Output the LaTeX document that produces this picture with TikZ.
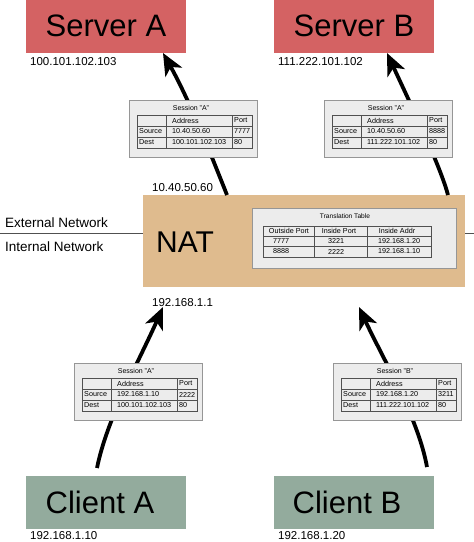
\documentclass[tikz,border=0pt]{standalone}
\usepackage{fontspec}
\setmainfont{Liberation Sans}
\usetikzlibrary{arrows.meta}
\definecolor{srvred}{RGB}{212,98,99}
\definecolor{cligreen}{RGB}{147,171,157}
\definecolor{nattan}{RGB}{223,187,142}
\definecolor{panelfill}{RGB}{236,236,236}
\definecolor{panelline}{RGB}{150,150,150}
\definecolor{gridline}{RGB}{80,80,80}
\tikzset{
  hostbox/.style={draw=none,minimum width=160pt,minimum height=53pt,inner sep=0pt},
  bigtext/.style={inner sep=0pt,font=\fontsize{31}{31}\selectfont},
  iplabel/.style={anchor=west,inner sep=0pt,font=\fontsize{11.5}{12}\selectfont},
  netlabel/.style={anchor=west,inner sep=0pt,font=\fontsize{13.5}{14}\selectfont},
  flow/.style={line width=3.8pt,-{Stealth[length=22pt,width=19pt,inset=6pt]}},
  panel/.style={draw=panelline,fill=panelfill,line width=0.8pt,inner sep=0pt},
  gridl/.style={draw=gridline,line width=0.8pt},
  celltitle/.style={inner sep=0pt,font=\fontsize{7}{8}\selectfont},
  cell/.style={anchor=west,inner sep=0pt,font=\fontsize{7.2}{8}\selectfont},
  ccell/.style={inner sep=0pt,font=\fontsize{7.2}{8}\selectfont},
}
\newcommand\sesspanel[7]{%
  \begin{scope}[shift={#1}]
    \node[panel,anchor=north west,minimum width=128pt,minimum height=57pt] (#2) at (0,0) {};
    \node[celltitle] (#2-title) at (62,7.5) {#3};
    \draw[gridl] (8,15) rectangle (123,48);
    \draw[gridl] (8,26) -- (123,26) (8,37) -- (123,37) (37,15) -- (37,48) (103,15) -- (103,48);
    \node[cell] (#2-ha) at (43,20.5) {Address};
    \node[cell] (#2-hp) at (105,20.5) {Port};
    \node[cell] (#2-s) at (10,31.5) {Source};
    \node[cell] (#2-sa) at (43,31.5) {#4};
    \node[cell] (#2-sp) at (105,31.5) {#5};
    \node[cell] (#2-d) at (10,42.5) {Dest};
    \node[cell] (#2-da) at (43,42.5) {#6};
    \node[cell] (#2-dp) at (105,42.5) {#7};
  \end{scope}}
\begin{document}
\begin{tikzpicture}[x=1pt,y=-1pt]
\useasboundingbox (0,0) rectangle (474,542);

% hosts
\node[hostbox,fill=srvred] (srvA) at (106,26) {};
\node[bigtext] (srvAtext) at (106,26) {Server A};
\node[hostbox,fill=srvred] (srvB) at (354,26) {};
\node[bigtext] (srvBtext) at (354,26) {Server B};
\node[hostbox,fill=cligreen] (cliA) at (106,502.5) {};
\node[bigtext] (cliAtext) at (100,502.5) {Client A};
\node[hostbox,fill=cligreen] (cliB) at (354,502.5) {};
\node[bigtext] (cliBtext) at (347,502.5) {Client B};

\node[iplabel] (ipSA) at (30,62) {100.101.102.103};
\node[iplabel] (ipSB) at (278,62) {111.222.101.102};
\node[iplabel] (ipCA) at (30,536) {192.168.1.10};
\node[iplabel] (ipCB) at (278,536) {192.168.1.20};

% NAT
\node[fill=nattan,minimum width=322pt,minimum height=92pt,inner sep=0pt] (nat) at (304,241) {};
\node[inner sep=0pt,font=\fontsize{30}{30}\selectfont] (nattext) at (185,242) {NAT};
\node[iplabel] (ipNo) at (152,188) {10.40.50.60};
\node[iplabel] (ipNi) at (152,303) {192.168.1.1};

% network separator
\coordinate (extL) at (0,233);
\coordinate (extR) at (474,233);
\draw[draw=gridline,line width=0.8pt] (extL) -- (extL -| nat.west);
\draw[draw=gridline,line width=0.8pt] (extR -| nat.east) -- (extR);
\node[netlabel] (extlab) at (5,223) {External Network};
\node[netlabel] (intlab) at (5,247) {Internal Network};

% arrows
\coordinate (cAout) at (97,468);
\coordinate (natInA) at (163,307);
\coordinate (cBout) at (427,467);
\coordinate (natInB) at (359,307);
\coordinate (natOutA) at (227,195);
\coordinate (sAin) at (163,53);
\coordinate (natOutB) at (448,195);
\coordinate (sBin) at (387,53);
\draw[flow] (cAout) .. controls (107,418) and (141,357) .. (natInA);
\draw[flow] (cBout) .. controls (418,417) and (382,357) .. (natInB);
\draw[flow] (natOutA) .. controls (215,165) and (191,103) .. (sAin);
\draw[flow] (natOutB) .. controls (440,165) and (410,103) .. (sBin);

% session panels
\sesspanel{(129,100)}{sessTA}{Session "A"}{10.40.50.60}{7777}{100.101.102.103}{80}
\sesspanel{(324,100)}{sessTB}{Session "A"}{10.40.50.60}{8888}{111.222.101.102}{80}
\sesspanel{(74,363)}{sessBA}{Session "A"}{192.168.1.10}{2222}{100.101.102.103}{80}
\sesspanel{(333,363)}{sessBB}{Session "B"}{192.168.1.20}{3211}{111.222.101.102}{80}

% translation table
\node[panel,anchor=north west,minimum width=204pt,minimum height=60pt] (tt) at (252,208) {};
\node[celltitle,font=\fontsize{6.6}{8}\selectfont] (tttitle) at (345,216.5) {Translation Table};
\draw[gridl] (263,226) rectangle (431,257);
\draw[gridl] (263,236) -- (431,236) (263,246) -- (431,246) (314,226) -- (314,257) (367,226) -- (367,257);
\node[ccell] (tth1) at (289,231) {Outside Port};
\node[ccell] (tth2) at (339,231) {Inside Port};
\node[ccell] (tth3) at (397,231) {Inside Addr};
\node[cell] (tt11) at (273,241) {7777};
\node[cell] (tt12) at (328,241) {3221};
\node[cell] (tt13) at (378,241) {192.168.1.20};
\node[cell] (tt21) at (273,251.5) {8888};
\node[cell] (tt22) at (328,251.5) {2222};
\node[cell] (tt23) at (378,251.5) {192.168.1.10};
\end{tikzpicture}
\end{document}
